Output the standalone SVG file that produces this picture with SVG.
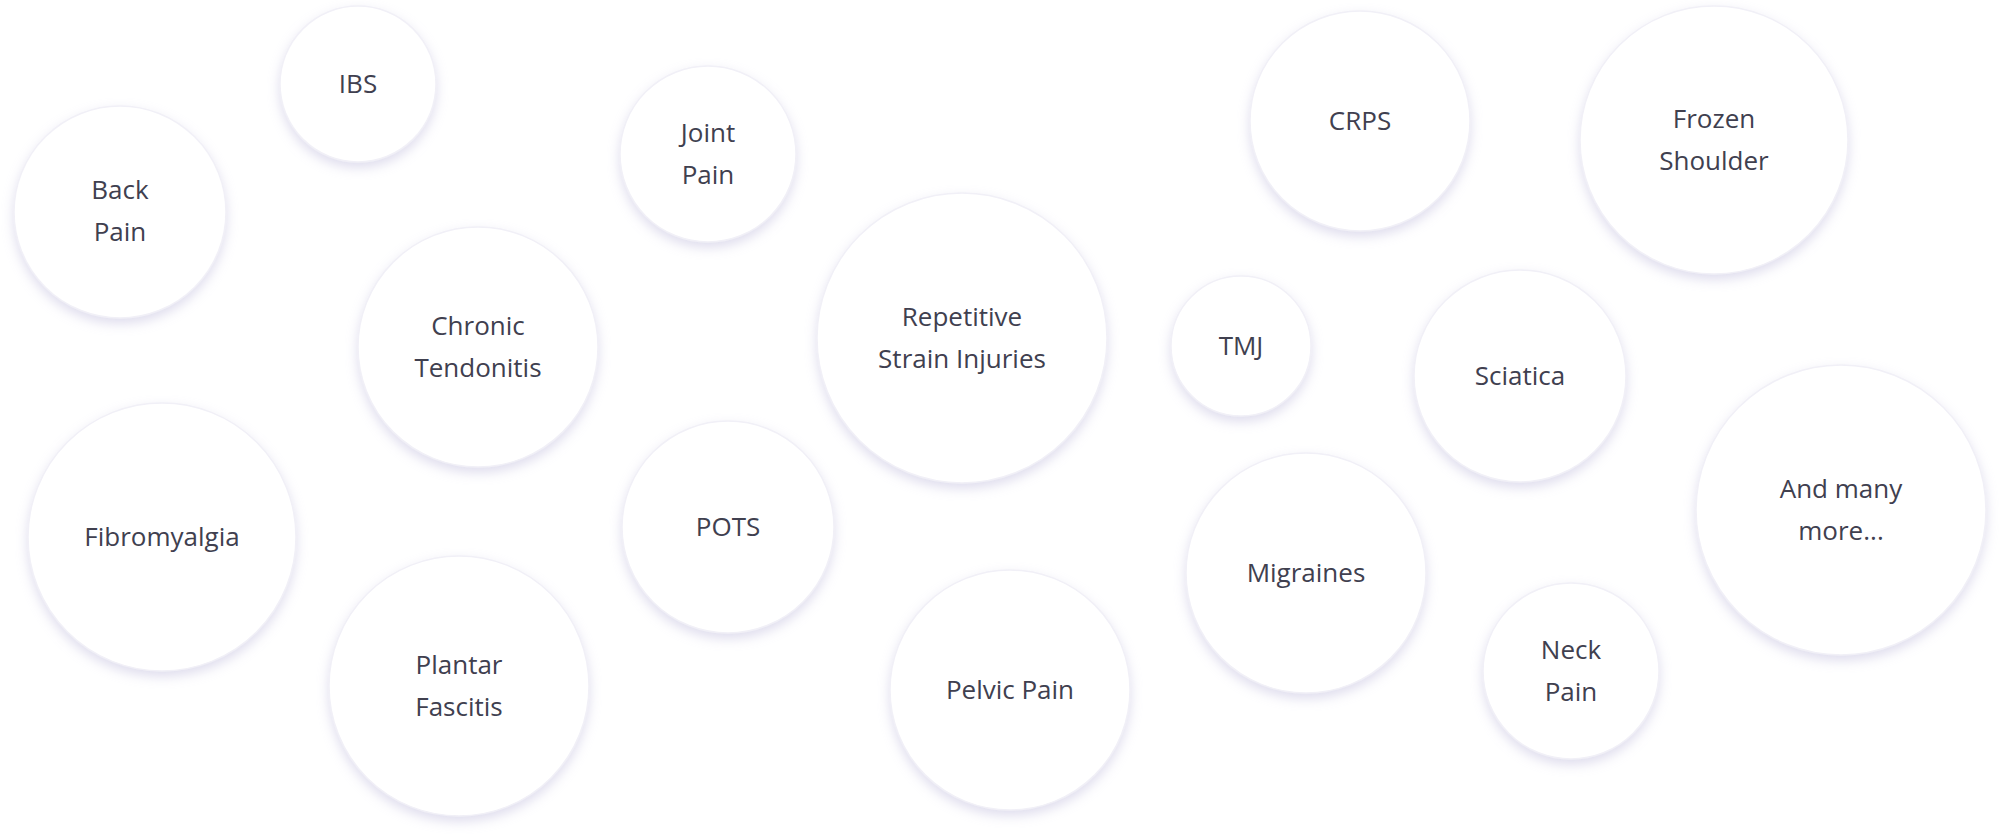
<svg xmlns="http://www.w3.org/2000/svg" width="2000" height="838" viewBox="0 0 2000 838">
<defs>
<filter id="sh" x="-30%" y="-30%" width="160%" height="160%">
<feDropShadow dx="0" dy="5" stdDeviation="6" flood-color="#b8b4d8" flood-opacity="0.45"/>
</filter>
<style>
circle{fill:#ffffff;stroke:#f1f0f7;stroke-width:1.5;filter:url(#sh)}
text{font-family:"Open Sans","Liberation Sans",sans-serif;font-size:26px;fill:#40404f;text-anchor:middle}
</style>
</defs>
<rect width="2000" height="838" fill="#ffffff"/>
<g id="connectors"/>
<g id="back-pain"><circle cx="120" cy="212" r="106"/><text x="120" y="199">Back</text><text x="120" y="241">Pain</text></g>
<g id="ibs"><circle cx="358" cy="84" r="78"/><text x="358" y="93">IBS</text></g>
<g id="joint-pain"><circle cx="708" cy="154" r="88"/><text x="708" y="142">Joint</text><text x="708" y="184">Pain</text></g>
<g id="chronic-tendonitis"><circle cx="478" cy="347" r="120"/><text x="478" y="335">Chronic</text><text x="478" y="377">Tendonitis</text></g>
<g id="fibromyalgia"><circle cx="162" cy="537" r="134"/><text x="162" y="546">Fibromyalgia</text></g>
<g id="plantar-fascitis"><circle cx="459" cy="686" r="130"/><text x="459" y="674">Plantar</text><text x="459" y="716">Fascitis</text></g>
<g id="pots"><circle cx="728" cy="527" r="106"/><text x="728" y="536">POTS</text></g>
<g id="rsi"><circle cx="962" cy="338" r="145"/><text x="962" y="326">Repetitive</text><text x="962" y="368">Strain Injuries</text></g>
<g id="pelvic-pain"><circle cx="1010" cy="690" r="120"/><text x="1010" y="699">Pelvic Pain</text></g>
<g id="tmj"><circle cx="1241" cy="346" r="70"/><text x="1241" y="355">TMJ</text></g>
<g id="crps"><circle cx="1360" cy="121" r="110"/><text x="1360" y="130">CRPS</text></g>
<g id="frozen-shoulder"><circle cx="1714" cy="140" r="134"/><text x="1714" y="128">Frozen</text><text x="1714" y="170">Shoulder</text></g>
<g id="sciatica"><circle cx="1520" cy="376" r="106"/><text x="1520" y="385">Sciatica</text></g>
<g id="migraines"><circle cx="1306" cy="573" r="120"/><text x="1306" y="582">Migraines</text></g>
<g id="neck-pain"><circle cx="1571" cy="671" r="88"/><text x="1571" y="659">Neck</text><text x="1571" y="701">Pain</text></g>
<g id="and-many-more"><circle cx="1841" cy="510" r="145"/><text x="1841" y="498">And many</text><text x="1841" y="540">more...</text></g>
</svg>
